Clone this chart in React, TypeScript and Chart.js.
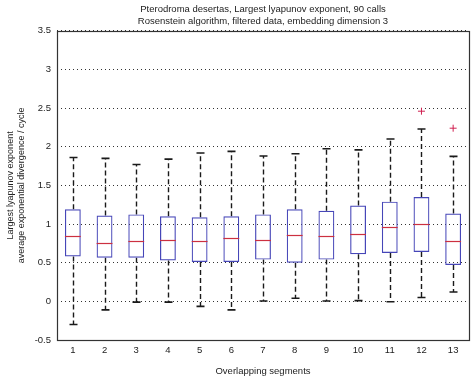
import React, { useEffect, useRef } from "react";
import { Chart, registerables } from "chart.js";

Chart.register(...registerables);

const categories = ["1", "2", "3", "4", "5", "6", "7", "8", "9", "10", "11", "12", "13"];
const whiskerLow = [-0.3, -0.11, -0.01, -0.01, -0.065, -0.11, 0.005, 0.04, 0.005, 0.01, -0.005, 0.05, 0.12];
const q1 = [0.58, 0.565, 0.565, 0.53, 0.51, 0.51, 0.54, 0.5, 0.54, 0.61, 0.625, 0.64, 0.47];
const median = [0.84, 0.76, 0.776, 0.8, 0.776, 0.815, 0.8, 0.854, 0.845, 0.87, 0.96, 1.005, 0.776];
const q3 = [1.19, 1.11, 1.125, 1.1, 1.087, 1.1, 1.125, 1.19, 1.173, 1.24, 1.29, 1.35, 1.135];
const whiskerHigh = [1.86, 1.85, 1.77, 1.84, 1.92, 1.94, 1.88, 1.91, 1.975, 1.96, 2.1, 2.23, 1.875];
const outliers = [null, null, null, null, null, null, null, null, null, null, null, 2.46, 2.24];
const yTicks = [-0.5, 0, 0.5, 1, 1.5, 2, 2.5, 3, 3.5];

const titleLines = [
  "Pterodroma desertas, Largest lyapunov exponent, 90 calls",
  "Rosenstein algorithm, filtered data, embedding dimension 3",
];
const yTitleLines = ["Largest lyapunov exponent", "average exponential divergence / cycle"];
const xTitle = "Overlapping segments";

const FONT = "'Liberation Sans', Arial, sans-serif";

const boxPlugin = {
  id: "boxExtras",
  beforeDatasetsDraw(chart: any) {
    const { ctx, scales } = chart;
    const x = scales.x;
    const y = scales.y;
    ctx.save();
    ctx.strokeStyle = "#1a1a1a";
    categories.forEach((_, i) => {
      const cx = Math.round(x.getPixelForValue(i)) + 0.5;
      const yLo = y.getPixelForValue(whiskerLow[i]);
      const yQ1 = y.getPixelForValue(q1[i]);
      const yQ3 = y.getPixelForValue(q3[i]);
      const yHi = y.getPixelForValue(whiskerHigh[i]);
      ctx.lineWidth = 1.4;
      ctx.setLineDash([5, 3]);
      ctx.beginPath();
      ctx.moveTo(cx, yQ3);
      ctx.lineTo(cx, yHi);
      ctx.moveTo(cx, yQ1);
      ctx.lineTo(cx, yLo);
      ctx.stroke();
      ctx.setLineDash([]);
      ctx.lineWidth = 1.6;
      ctx.beginPath();
      ctx.moveTo(cx - 4, yHi);
      ctx.lineTo(cx + 4, yHi);
      ctx.moveTo(cx - 4, yLo);
      ctx.lineTo(cx + 4, yLo);
      ctx.stroke();
    });
    ctx.restore();
  },
  afterDatasetsDraw(chart: any) {
    const { ctx, scales, chartArea } = chart;
    const x = scales.x;
    const y = scales.y;
    const meta = chart.getDatasetMeta(0);
    ctx.save();
    ctx.strokeStyle = "#cc3040";
    ctx.lineWidth = 1.2;
    categories.forEach((_, i) => {
      const bar = meta.data[i];
      const half = bar.width / 2;
      const cx = x.getPixelForValue(i);
      const ym = Math.round(y.getPixelForValue(median[i])) + 0.5;
      ctx.beginPath();
      ctx.moveTo(cx - half, ym);
      ctx.lineTo(cx + half, ym);
      ctx.stroke();
    });
    ctx.strokeStyle = "#333";
    ctx.lineWidth = 1.2;
    ctx.strokeRect(
      Math.round(chartArea.left) + 0.5,
      Math.round(chartArea.top) + 0.5,
      Math.round(chartArea.right - chartArea.left),
      Math.round(chartArea.bottom - chartArea.top)
    );
    ctx.restore();
  },
};

export default function App() {
  const ref = useRef<HTMLCanvasElement | null>(null);
  useEffect(() => {
    document.body.style.margin = "0";
    const canvas = ref.current;
    if (!canvas) return;
    const chart = new Chart(canvas, {
      type: "bar",
      data: {
        labels: categories,
        datasets: [
          {
            type: "bar",
            data: categories.map((_, i) => [q1[i], q3[i]]) as any,
            backgroundColor: "rgba(255,255,255,0)",
            borderColor: "#4646b8",
            borderWidth: 1.2,
            borderSkipped: false,
            barPercentage: 0.5,
            categoryPercentage: 1,
          },
          {
            type: "line",
            data: outliers as any,
            showLine: false,
            pointStyle: "cross",
            pointRadius: 3.5,
            pointBorderWidth: 1,
            borderColor: "#d02050",
            backgroundColor: "#d02050",
          } as any,
        ],
      },
      options: {
        animation: false,
        responsive: false,
        events: [],
        layout: { padding: { left: 0, right: 5, top: 0, bottom: 0 } },
        plugins: {
          legend: { display: false },
          tooltip: { enabled: false },
          title: {
            display: true,
            text: titleLines,
            fullSize: false,
            color: "#222",
            font: { family: FONT, size: 9.5, weight: "normal" },
            lineHeight: 1.35,
            padding: { top: 4, bottom: 4 },
          },
        },
        scales: {
          x: {
            offset: true,
            grid: { display: false, drawTicks: false },
            border: { display: false },
            ticks: { color: "#222", font: { family: FONT, size: 9.5 }, padding: 5 },
            title: {
              display: true,
              text: xTitle,
              color: "#222",
              font: { family: FONT, size: 9.5 },
              padding: { top: 2, bottom: 0 },
            },
            afterFit: (s: any) => {
              s.height = 37;
            },
          },
          y: {
            min: -0.5,
            max: 3.5,
            afterBuildTicks: (s: any) => {
              s.ticks = yTicks.map((v) => ({ value: v }));
            },
            grid: {
              color: "#333",
              lineWidth: 1,
              drawTicks: false,
            },
            border: { display: false, dash: [1, 3] },
            ticks: {
              color: "#222",
              font: { family: FONT, size: 9.5 },
              padding: 6,
              callback: (v: any) => String(v),
            },
            title: {
              display: true,
              text: yTitleLines,
              color: "#222",
              font: { family: FONT, size: 9 },
              padding: { top: 5, bottom: 0 },
              lineHeight: 1.1,
            },
            afterFit: (s: any) => {
              s.width = 57;
            },
          },
        },
      },
      plugins: [boxPlugin],
    });
    return () => chart.destroy();
  }, []);
  return (
    <div style={{ position: "absolute", left: 0, top: 0, width: 474, height: 377 }}>
      <canvas ref={ref} width={474} height={377} style={{ width: 474, height: 377 }} />
    </div>
  );
}
